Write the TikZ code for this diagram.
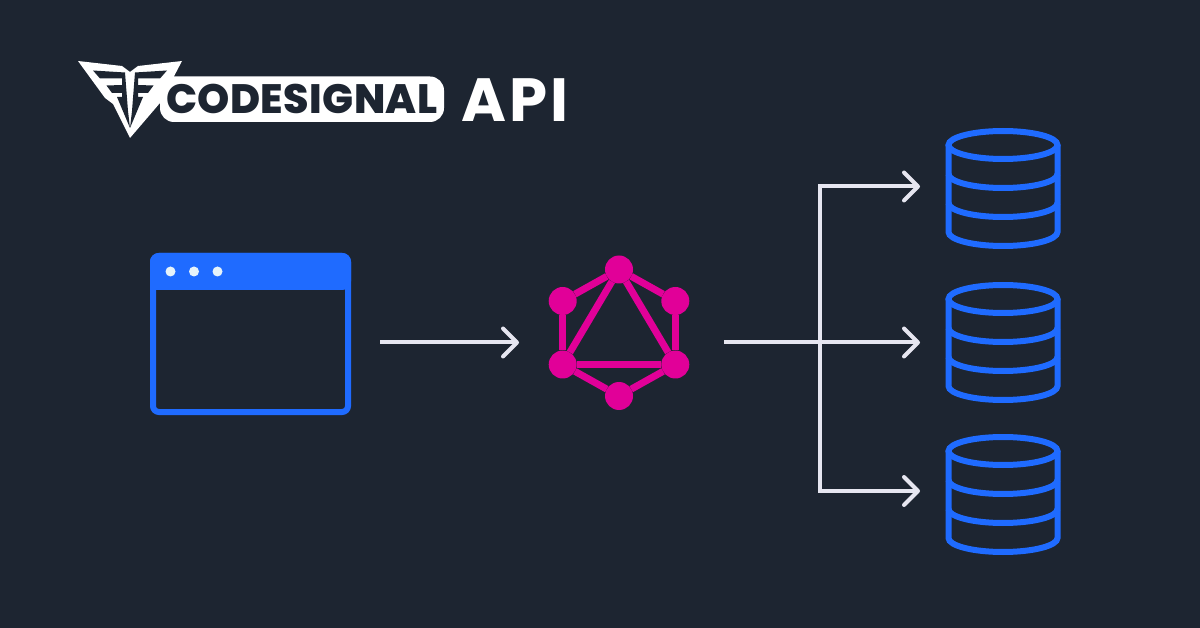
\documentclass[tikz,border=0pt]{standalone}
\usepackage{fontspec}
\usetikzlibrary{arrows.meta}
\newfontfamily\logofont{Poppins}[UprightFont=* ExtraBold,LetterSpace=1]
\newfontfamily\apifont{Poppins}[UprightFont=* Bold,LetterSpace=5]
\definecolor{slate}{HTML}{1D2531}
\definecolor{azure}{HTML}{1F6BFF}
\definecolor{magenta}{HTML}{E10098}
\definecolor{mist}{HTML}{E6E6F0}
\definecolor{frost}{HTML}{E6F3FA}

\begin{document}
\begin{tikzpicture}[
    x=1pt,
    y=-1pt,
    wire/.style={draw=mist,line width=4pt,-{Straight Barb[length=14pt,width=28pt,round]}},
    window node/.style={draw=azure,line width=6pt,rounded corners=6pt,minimum width=195pt,minimum height=156pt,inner sep=0pt,outer sep=0pt},
    dot node/.style={circle,fill=frost,minimum size=10pt,inner sep=0pt},
    vertex node/.style={circle,fill=magenta,minimum size=28pt,inner sep=0pt,outer sep=0pt},
    edge line/.style={every edge/.style={draw=magenta,line width=7pt}},
    box node/.style={minimum width=#1,inner sep=0pt,outer sep=0pt},
    db line/.style={draw=azure,line width=6pt}]

  \useasboundingbox (0,0) rectangle (1200,628);
  \fill[slate] (0,0) rectangle (1200,628);

  % logo
  \fill[white,rounded corners=14pt] (160,76.5) rectangle (444,122);
  \fill[white] (78,61) -- (122,66) -- (130,72) -- (138,66) -- (182,61)
    -- (160,103) -- (130,138) -- (113,104) -- (105,98) -- cycle;
  \foreach \flip in {1,-1} {
    \fill[slate,xshift=130pt,xscale=\flip] (-37,70.5) -- (-5,72.5) -- (-2,111) -- (0,128)
      -- (-13,97) -- (-8,97) -- (-8,93) -- (-18,93) -- (-23.5,85.5) -- (-8,85)
      -- (-8,78.5) -- (-30,78.5) -- cycle;
  }
  \node[anchor=base west,inner sep=0pt,text=slate,font=\logofont\fontsize{41}{41}\selectfont] (brand) at (166,114) {CODESIGNAL};
  \node[anchor=base west,inner sep=0pt,text=white,font=\apifont\fontsize{61}{61}\selectfont] (api) at (461,122) {API};

  % client window
  \node[window node] (window) at (250.5,334) {};
  \fill[azure,draw=azure,line width=6pt,rounded corners=6pt] (153,287) -- (153,256) -- (348,256) -- (348,287) [sharp corners] -- cycle;
  \node[dot node] (dot1) at (170.5,271.5) {};
  \node[dot node] (dot2) at (194,271.5) {};
  \node[dot node] (dot3) at (217.5,271.5) {};

  % graph
  \node[vertex node] (top) at (619,269.5) {};
  \node[vertex node] (upleft) at (562.7,301) {};
  \node[vertex node] (upright) at (675.3,301) {};
  \node[vertex node] (lowleft) at (562.7,364.5) {};
  \node[vertex node] (lowright) at (675.3,364.5) {};
  \node[vertex node] (bottom) at (619,396) {};
  \path[edge line]
    (top) edge (upleft)
          edge (upright)
          edge (lowleft)
          edge (lowright)
    (upleft) edge (lowleft)
    (upright) edge (lowright)
    (lowleft) edge (lowright)
              edge (bottom)
    (lowright) edge (bottom);
  \node[box node=140pt,minimum height=155pt] (graphql) at (619,333) {};

  % databases
  \foreach \name/\shift in {db1/0,db2/154,db3/306} {
    \node[box node=115pt,minimum height=121pt] (\name) at (1003,188.5+\shift) {};
    \begin{scope}[shift={(0,\shift)}]
      \draw[db line] (1003,145) ellipse [x radius=54.5pt,y radius=14pt];
      \draw[db line] (948.5,145) -- (948.5,232) arc [start angle=180,end angle=360,x radius=54.5pt,y radius=14pt] -- (1057.5,145);
      \draw[db line] (948.5,174) arc [start angle=180,end angle=360,x radius=54.5pt,y radius=14pt];
      \draw[db line] (948.5,203) arc [start angle=180,end angle=360,x radius=54.5pt,y radius=14pt];
    \end{scope}
  }

  % connectors
  \coordinate (hub) at (820,342.5);
  \coordinate (tip1) at (920,186.5);
  \coordinate (tip3) at (920,491);
  \draw[wire,shorten <=32pt,shorten >=30pt] (window.east |- hub) -- (graphql.west |- hub);
  \draw[wire,shorten <=35pt,shorten >=25.5pt] (graphql.east |- hub) -- (db2.west);
  \draw[wire] (hub) |- (tip1);
  \draw[wire] (hub) |- (tip3);
\end{tikzpicture}
\end{document}
